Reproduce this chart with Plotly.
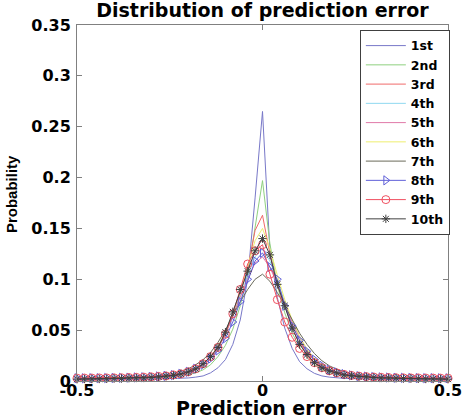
import plotly.graph_objects as go

# x grid: prediction error bins
x_err = [round(-0.5 + 0.02 * i, 2) for i in range(51)]

names = ["1st", "2nd", "3rd", "4th", "5th", "6th", "7th", "8th", "9th", "10th"]

# peak values (x = 0)
peak = [0.265, 0.197, 0.163, 0.130, 0.122, 0.150, 0.105, 0.126, 0.134, 0.140]

# left halves, listed from x=-0.02 outward to x=-0.5
left = [
    [0.180, 0.100, 0.060, 0.036, 0.021, 0.013, 0.008, 0.005, 0.0038, 0.0030, 0.0026, 0.0023, 0.0020, 0.0019, 0.0018, 0.0016, 0.0015, 0.0014, 0.0013, 0.0012, 0.0012, 0.0011, 0.0011, 0.0010, 0.0010],
    [0.150, 0.105, 0.074, 0.051, 0.035, 0.024, 0.016, 0.011, 0.008, 0.006, 0.0046, 0.0038, 0.0033, 0.0030, 0.0027, 0.0025, 0.0023, 0.0021, 0.0020, 0.0019, 0.0018, 0.0017, 0.0016, 0.0015, 0.0015],
    [0.148, 0.110, 0.085, 0.063, 0.046, 0.032, 0.022, 0.015, 0.011, 0.008, 0.006, 0.005, 0.0042, 0.0036, 0.0032, 0.0029, 0.0027, 0.0025, 0.0023, 0.0022, 0.0021, 0.0020, 0.0019, 0.0018, 0.0018],
    [0.122, 0.104, 0.084, 0.064, 0.046, 0.033, 0.023, 0.016, 0.012, 0.009, 0.007, 0.0055, 0.0046, 0.0040, 0.0035, 0.0032, 0.0030, 0.0028, 0.0026, 0.0025, 0.0024, 0.0023, 0.0022, 0.0021, 0.0020],
    [0.116, 0.100, 0.082, 0.064, 0.047, 0.034, 0.024, 0.017, 0.012, 0.009, 0.007, 0.0056, 0.0047, 0.0041, 0.0037, 0.0034, 0.0031, 0.0029, 0.0027, 0.0026, 0.0025, 0.0024, 0.0023, 0.0022, 0.0021],
    [0.138, 0.112, 0.088, 0.066, 0.048, 0.034, 0.024, 0.017, 0.012, 0.009, 0.0068, 0.0054, 0.0045, 0.0039, 0.0035, 0.0032, 0.0030, 0.0028, 0.0026, 0.0025, 0.0024, 0.0023, 0.0022, 0.0021, 0.0020],
    [0.100, 0.090, 0.078, 0.064, 0.050, 0.038, 0.028, 0.021, 0.016, 0.012, 0.0095, 0.0075, 0.0060, 0.0050, 0.0045, 0.0040, 0.0037, 0.0034, 0.0032, 0.0030, 0.0029, 0.0028, 0.0027, 0.0026, 0.0025],
    [0.118, 0.100, 0.078, 0.058, 0.042, 0.030, 0.022, 0.016, 0.012, 0.009, 0.007, 0.0058, 0.0050, 0.0045, 0.0040, 0.0037, 0.0035, 0.0033, 0.0031, 0.0030, 0.0029, 0.0028, 0.0028, 0.0027, 0.0027],
    [0.128, 0.115, 0.090, 0.066, 0.046, 0.033, 0.024, 0.017, 0.012, 0.009, 0.007, 0.006, 0.005, 0.0045, 0.0041, 0.0038, 0.0036, 0.0034, 0.0032, 0.0031, 0.0030, 0.0030, 0.0029, 0.0029, 0.0028],
    [0.128, 0.108, 0.090, 0.068, 0.048, 0.033, 0.024, 0.017, 0.012, 0.009, 0.007, 0.0055, 0.0048, 0.0040, 0.0035, 0.0030, 0.0030, 0.0028, 0.0025, 0.0025, 0.0022, 0.0020, 0.0020, 0.0020, 0.0018],
]

# right halves, listed from x=0.02 outward to x=0.5
right = [
    [0.128, 0.082, 0.052, 0.032, 0.019, 0.012, 0.0075, 0.0050, 0.0038, 0.0030, 0.0026, 0.0023, 0.0020, 0.0019, 0.0018, 0.0016, 0.0015, 0.0014, 0.0013, 0.0012, 0.0012, 0.0011, 0.0011, 0.0010, 0.0010],
    [0.135, 0.094, 0.067, 0.047, 0.033, 0.023, 0.016, 0.011, 0.008, 0.006, 0.0047, 0.0039, 0.0033, 0.0029, 0.0027, 0.0025, 0.0023, 0.0021, 0.0020, 0.0019, 0.0018, 0.0017, 0.0016, 0.0015, 0.0015],
    [0.125, 0.095, 0.074, 0.056, 0.040, 0.028, 0.020, 0.014, 0.010, 0.0075, 0.0058, 0.0048, 0.0041, 0.0036, 0.0032, 0.0029, 0.0027, 0.0025, 0.0023, 0.0022, 0.0021, 0.0020, 0.0019, 0.0018, 0.0018],
    [0.118, 0.098, 0.078, 0.058, 0.042, 0.030, 0.022, 0.016, 0.0115, 0.0085, 0.0066, 0.0053, 0.0045, 0.0039, 0.0035, 0.0032, 0.0030, 0.0028, 0.0026, 0.0025, 0.0024, 0.0023, 0.0022, 0.0021, 0.0020],
    [0.112, 0.095, 0.077, 0.058, 0.043, 0.031, 0.022, 0.016, 0.012, 0.009, 0.0068, 0.0055, 0.0046, 0.0040, 0.0036, 0.0033, 0.0030, 0.0028, 0.0027, 0.0026, 0.0025, 0.0024, 0.0023, 0.0022, 0.0021],
    [0.130, 0.104, 0.080, 0.060, 0.044, 0.031, 0.022, 0.016, 0.0115, 0.0085, 0.0065, 0.0052, 0.0044, 0.0038, 0.0034, 0.0031, 0.0029, 0.0027, 0.0026, 0.0025, 0.0024, 0.0023, 0.0022, 0.0021, 0.0020],
    [0.098, 0.087, 0.074, 0.060, 0.047, 0.036, 0.027, 0.020, 0.015, 0.0115, 0.0090, 0.0072, 0.0058, 0.0049, 0.0044, 0.0040, 0.0037, 0.0034, 0.0032, 0.0030, 0.0029, 0.0028, 0.0027, 0.0026, 0.0025],
    [0.112, 0.100, 0.074, 0.054, 0.040, 0.029, 0.021, 0.015, 0.011, 0.0085, 0.0068, 0.0056, 0.0048, 0.0043, 0.0039, 0.0036, 0.0034, 0.0032, 0.0031, 0.0030, 0.0029, 0.0028, 0.0028, 0.0027, 0.0027],
    [0.105, 0.080, 0.058, 0.043, 0.032, 0.024, 0.018, 0.013, 0.010, 0.008, 0.0065, 0.0055, 0.0048, 0.0043, 0.0039, 0.0036, 0.0034, 0.0032, 0.0031, 0.0030, 0.0030, 0.0029, 0.0029, 0.0028, 0.0028],
    [0.124, 0.095, 0.074, 0.052, 0.036, 0.026, 0.018, 0.013, 0.010, 0.008, 0.006, 0.0052, 0.0045, 0.0040, 0.0035, 0.0030, 0.0030, 0.0028, 0.0025, 0.0025, 0.0022, 0.0020, 0.0020, 0.0020, 0.0018],
]

y_tickvals = [0, 0.05, 0.1, 0.15, 0.2, 0.25, 0.3, 0.35]
y_ticktext = ["0", "0.05", "0.1", "0.15", "0.2", "0.25", "0.3", "0.35"]
x_tickvals = [-0.5, 0, 0.5]
x_ticktext = ["-0.5", "0", "0.5"]

colors = ["#7878c8", "#8fd07f", "#f06a6a", "#8fd8f0", "#e07aa8",
          "#eeee70", "#6a6a5a", "#6060d8", "#f05060", "#404040"]
symbols = [None, None, None, None, None, None, None,
           "triangle-right-open", "circle-open", "asterisk-open"]
msizes = [0, 0, 0, 0, 0, 0, 0, 8, 8, 7]

fig = go.Figure()
for i, nm in enumerate(names):
    yv = left[i][::-1] + [peak[i]] + right[i]
    if symbols[i] is None:
        fig.add_trace(go.Scatter(x=x_err, y=yv, name=nm, mode="lines",
                                 line=dict(color=colors[i], width=1)))
    else:
        fig.add_trace(go.Scatter(x=x_err, y=yv, name=nm, mode="lines+markers",
                                 line=dict(color=colors[i], width=1),
                                 marker=dict(symbol=symbols[i], size=msizes[i],
                                             color=colors[i],
                                             line=dict(color=colors[i], width=1)),
                                 cliponaxis=False))

axcol = "#808080"
tickfont = dict(family="DejaVu Sans", size=16, color="black", weight="bold")
fig.update_xaxes(range=[-0.5, 0.5], tickvals=x_tickvals, ticktext=x_ticktext,
                 showline=True, linecolor=axcol, linewidth=1, mirror="ticks",
                 ticks="inside", ticklen=5, tickcolor=axcol, showgrid=False,
                 zeroline=False, tickfont=tickfont, ticklabelstandoff=-5)
fig.update_yaxes(range=[0, 0.35], tickvals=y_tickvals, ticktext=y_ticktext,
                 showline=True, linecolor=axcol, linewidth=1, mirror="ticks",
                 ticks="inside", ticklen=5, tickcolor=axcol, showgrid=False,
                 zeroline=False, tickfont=tickfont, ticklabelstandoff=2)

fig.update_layout(
    width=474, height=419,
    margin=dict(l=77, r=15, t=25, b=38),
    paper_bgcolor="white", plot_bgcolor="white",
    title=dict(text="Distribution of prediction error", x=0.5, xref="paper",
               y=1 - 10 / 419, yanchor="middle",
               font=dict(family="DejaVu Sans", size=19, color="black", weight="bold")),
    legend=dict(x=1.005, xanchor="right", y=0.986, yanchor="top",
                bgcolor="white", bordercolor="#404040", borderwidth=1,
                font=dict(family="DejaVu Sans", size=12.5, color="black", weight="bold"),
                itemwidth=40, entrywidth=62, entrywidthmode="pixels"),
    showlegend=True,
    annotations=[
        dict(text="Prediction error", xref="paper", yref="paper", x=0.497, y=-0.077,
             xanchor="center", yanchor="middle", showarrow=False,
             font=dict(family="DejaVu Sans", size=19, color="black", weight="bold")),
        dict(text="Probability", xref="paper", yref="paper", x=-0.178, y=0.525,
             xanchor="center", yanchor="middle", showarrow=False, textangle=-90,
             font=dict(family="Liberation Sans", size=15, color="black", weight="bold")),
    ],
)

fig.write_html("out.html", config={"displayModeBar": False},
               post_script="document.body.style.margin='0';document.body.style.overflow='hidden';")
